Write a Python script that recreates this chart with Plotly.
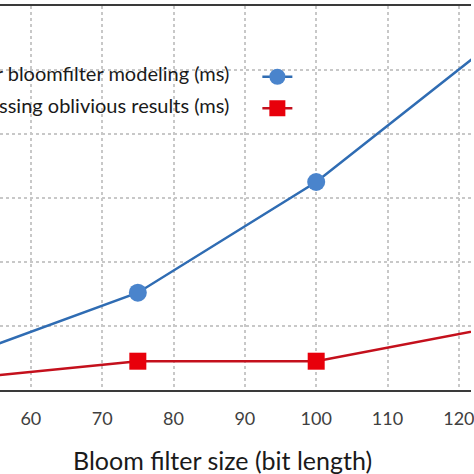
import plotly.graph_objects as go

bloom_sizes = [50, 75, 100, 125]
modeling_ms = [0.50, 1.52, 3.25, 5.45]
processing_ms = [0.17, 0.45, 0.45, 0.98]
series_names = ["Time for bloomfilter modeling (ms)", "Time for processing oblivious results (ms)"]
x_ticks = [50, 60, 70, 80, 90, 100, 110, 120, 130]
x_title = "Bloom filter size (bit length)"

FONT = "Lato"
blue_line, blue_mark = "#2f6cb3", "#4a84cc"
red_line, red_mark = "#c4101c", "#e8000b"

fig = go.Figure()
fig.add_trace(go.Scatter(
    x=bloom_sizes, y=modeling_ms, mode="lines+markers", name=" ",
    line=dict(color=blue_line, width=2.5),
    marker=dict(symbol="circle", size=18, color=blue_mark),
    hovertext=series_names[0],
))
fig.add_trace(go.Scatter(
    x=bloom_sizes, y=processing_ms, mode="lines+markers", name=" ",
    line=dict(color=red_line, width=2.5),
    marker=dict(symbol="square", size=17, color=red_mark),
    hovertext=series_names[1],
))

# legend texts (Excel style: text left of the symbol)
for i, nm in enumerate(series_names):
    fig.add_annotation(
        text=nm, xref="paper", yref="paper", x=232 / 474, y=[0.8255, 0.742][i],
        xanchor="right", yanchor="middle", showarrow=False,
        font=dict(family=FONT, size=20, color="#1a1a1a"),
    )

# axis title (centred on the full original chart, which extends further left)
fig.add_annotation(
    text=x_title, xref="paper", yref="paper", x=223.5 / 474, y=-70 / 384,
    xanchor="center", yanchor="middle", showarrow=False,
    font=dict(family=FONT, size=25, color="#1a1a1a"),
)

fig.update_layout(
    width=474, height=474,
    margin=dict(l=0, r=0, t=6, b=84),
    paper_bgcolor="white", plot_bgcolor="white",
    showlegend=True,
    legend=dict(
        x=259 / 474, y=0.87, xanchor="left", yanchor="top",
        font=dict(family=FONT, size=22), bgcolor="rgba(0,0,0,0)",
        itemwidth=30, tracegroupgap=0,
    ),
    font=dict(family=FONT, color="#404040"),
)
fig.update_xaxes(
    range=[55.68, 121.7], tickvals=x_ticks, ticktext=[str(v) for v in x_ticks],
    showline=True, linecolor="#3a3a3a", linewidth=2, mirror=True,
    showgrid=True, gridcolor="#c8c8c8", griddash="dot", gridwidth=1.5,
    ticks="", tickfont=dict(family=FONT, size=18, color="#404040"),
    ticklabelstandoff=11, ticklabeloverflow="allow",
    zeroline=False,
)
fig.update_yaxes(
    range=[0, 6], dtick=1, showticklabels=False,
    showgrid=True, gridcolor="#c8c8c8", griddash="dot", gridwidth=1.5,
    zeroline=False, showline=False, ticks="",
)
fig.write_html("out.html")
